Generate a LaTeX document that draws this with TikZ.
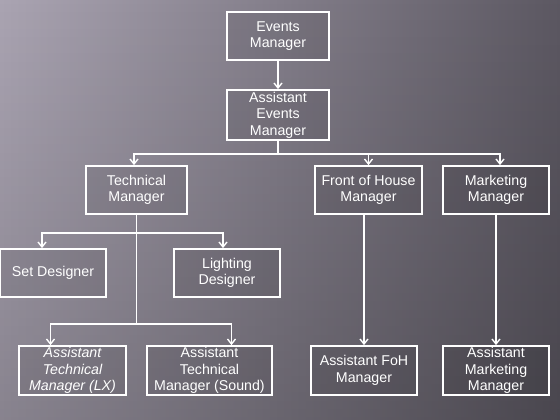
\documentclass[tikz,border=0pt]{standalone}
\usepackage{fontspec}
\setmainfont{Liberation Sans}
\usetikzlibrary{arrows.meta,fadings}
\definecolor{bgleft}{RGB}{170,164,178}
\definecolor{bgright}{RGB}{92,88,98}
\tikzfading[name=band, top color=transparent!100, middle color=transparent!0, bottom color=transparent!100]
\tikzset{
  box/.style={draw=white, line width=1.8pt, fill=black, fill opacity=0.08, text opacity=1,
    text=white, align=center, inner sep=1pt, rectangle,
    font=\fontsize{14.2}{16.6}\selectfont},
  link/.style={draw=white, line width=1.8pt},
  arr/.style={link, -{Straight Barb[length=5pt,width=8pt,line width=1.4pt]}}
}
\begin{document}
\begin{tikzpicture}[x=1pt,y=-1pt]
\useasboundingbox (0,0) rectangle (560,420);
\shade[left color=bgleft, right color=bgright] (0,0) rectangle (560,420);
\fill[black, path fading=north, opacity=0.2] (0,0) rectangle (560,420);
\begin{scope}
\clip (0,0) rectangle (560,420);
\fill[white, opacity=0.14, path fading=band, rotate around={-45:(160,170)}] (-200,120) rectangle (520,220);
\fill[white, opacity=0.10, path fading=band, rotate around={-40:(250,120)}] (-100,80) rectangle (600,150);
\fill[white, opacity=0.08, path fading=band, rotate around={-40:(120,300)}] (-200,270) rectangle (450,330);
\end{scope}

\node[box, minimum width=102, minimum height=48] (em) at (278,36) {Events\\Manager};
\node[box, minimum width=102, minimum height=50] (aem) at (278,115) {Assistant\\Events\\Manager};
\node[box, minimum width=101, minimum height=48] (tm) at (136.5,190) {Technical\\Manager};
\node[box, minimum width=107, minimum height=48] (foh) at (368.5,190) {Front of House\\Manager};
\node[box, minimum width=106, minimum height=48] (mm) at (496,190) {Marketing\\Manager};
\node[box, minimum width=106, minimum height=48] (sd) at (53,273) {Set Designer};
\node[box, minimum width=106, minimum height=48] (ld) at (227,273) {Lighting\\Designer};
\node[box, minimum width=107, minimum height=49] (atmlx) at (72.5,370.5) {\itshape Assistant\\\itshape Technical\\\itshape Manager (LX)};
\node[box, minimum width=125, minimum height=49] (atms) at (209.5,370.5) {Assistant\\Technical\\Manager (Sound)};
\node[box, minimum width=106, minimum height=49] (afoh) at (364,370.5) {Assistant FoH\\Manager};
\node[box, minimum width=106, minimum height=49] (amm) at (496,370.5) {Assistant\\Marketing\\Manager};

\draw[arr] (em.south) -- (aem.north);
\draw[arr] (aem.south) -- ++(0,13) -| ([xshift=-2.5]tm.north);
\draw[arr] (aem.south) -- ++(0,13) -| (foh.north);
\draw[arr] (aem.south) -- ++(0,13) -| ([xshift=4]mm.north);

\draw[link] (tm.south) -- ++(0,109);
\draw[arr] (tm.south) -- ++(0,18) -| ([xshift=-11]sd.north);
\draw[arr] (tm.south) -- ++(0,18) -| ([xshift=-4]ld.north);
\draw[arr] (tm.south) -- ++(0,109) -| ([xshift=-22]atmlx.north);
\draw[arr] (tm.south) -- ++(0,109) -| ([xshift=22]atms.north);

\draw[arr] (afoh.north |- foh.south) -- (afoh.north);
\draw[arr] (mm.south) -- (amm.north);
\end{tikzpicture}
\end{document}
